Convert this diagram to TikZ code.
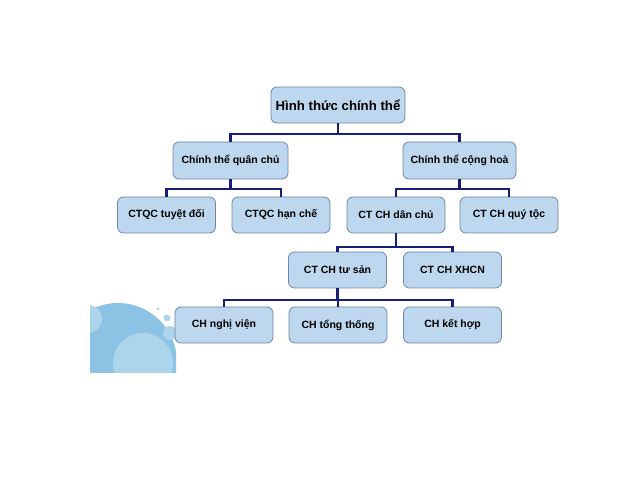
\documentclass[tikz,border=0pt]{standalone}
\usepackage{fontspec}
\setmainfont{Liberation Sans}
\usetikzlibrary{positioning}
\definecolor{boxfill}{RGB}{189,215,238}
\definecolor{boxline}{RGB}{112,134,166}
\definecolor{linkcol}{RGB}{22,30,122}
\definecolor{bubdark}{RGB}{140,194,228}
\definecolor{bublight}{RGB}{172,213,236}
\tikzset{
	formbox/.style={draw=boxline, line width=0.8pt, fill=boxfill, rounded corners=6pt, minimum width=98pt, minimum height=36pt, inner sep=2pt, font=\bfseries\fontsize{10.5}{12}\selectfont},
	link/.style={draw=linkcol, line width=2.8pt}
}

\begin{document}
\begin{tikzpicture}[x=1pt, y=-1pt]
			\useasboundingbox (0,0) rectangle (638,478);
			% bubbles in the corner
			\begin{scope}
				\clip (90,290) rectangle (176,373);
				\fill [bubdark] (118,362) circle (59);
				\fill [bublight] (143,363) circle (30);
				\fill [bublight] (88,319) circle (14);
			\end{scope}
			\fill [bublight] (158,309) circle (1.5);
			\fill [bublight] (167,318) circle (3.5);
			\fill [bublight] (170,333) circle (7);
			% boxes
			\node [formbox, minimum width=134pt, font=\bfseries\fontsize{13.2}{15}\selectfont] (form) at (338,105) {Hình thức chính thể};
			\node [formbox, minimum width=115pt, minimum height=37pt] (monarchy) at (230.5,160.5) {Chính thể quân chủ};
			\node [formbox, minimum width=113pt, minimum height=37pt] (republic) at (459.5,160.5) {Chính thể cộng hoà};
			\node [formbox] (absolute) at (166.5,215) {CTQC tuyệt đối};
			\node [formbox] (limited) at (281,215) {CTQC hạn chế};
			\node [formbox] (democratic) at (396,215) {CT CH dân chủ};
			\node [formbox] (aristocratic) at (509,215) {CT CH quý tộc};
			\node [formbox] (bourgeois) at (337.5,270) {CT CH tư sản};
			\node [formbox] (socialist) at (452.5,270) {CT CH XHCN};
			\node [formbox] (parliament) at (224,325) {CH nghị viện};
			\node [formbox] (president) at (338,325) {CH tổng thống};
			\node [formbox] (mixed) at (452.5,325) {CH kết hợp};
			% connectors
			\draw [link] (form.south) -- (form.south |- 0,134) -| (monarchy.north);
			\draw [link] (form.south |- 0,134) -| (republic.north);
			\draw [link] (monarchy.south) -- (monarchy.south |- 0,189) -| (absolute.north);
			\draw [link] (monarchy.south |- 0,189) -| (limited.north);
			\draw [link] (republic.south) -- (republic.south |- 0,189) -| (democratic.north);
			\draw [link] (republic.south |- 0,189) -| (aristocratic.north);
			\draw [link] (democratic.south) -- (democratic.south |- 0,247) -| (bourgeois.north);
			\draw [link] (democratic.south |- 0,247) -| (socialist.north);
			\draw [link] (bourgeois.south) -- (bourgeois.south |- 0,300) -| (parliament.north);
			\draw [link] (bourgeois.south |- 0,300) -| (president.north);
			\draw [link] (bourgeois.south |- 0,300) -| (mixed.north);
	\end{tikzpicture}
\end{document}
